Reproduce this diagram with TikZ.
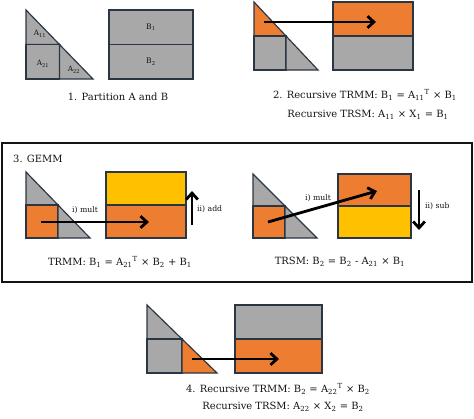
\documentclass[tikz,border=0pt]{standalone}
\usepackage{fontspec}
\setmainfont{DejaVu Serif}
\usetikzlibrary{arrows.meta}
\usetikzlibrary{positioning}
\definecolor{grey}{HTML}{A8A8A8}
\definecolor{orng}{HTML}{ED7D31}
\definecolor{yelw}{HTML}{FFC000}
\definecolor{edge}{HTML}{2B3644}
\definecolor{ink}{HTML}{141414}
\tikzset{part/.style = {draw=edge, line width=1pt}}
\tikzset{blk/.style 2 args = {part, fill=grey, inner sep=0,
                              minimum width=#1*0.03cm, minimum height=#2*0.03cm,
                              font=\fontsize{6.5}{7}\selectfont, text=ink}}
\tikzset{lbl/.style = {inner sep=0, font=\fontsize{6.3}{7}\selectfont, text=ink}}
\tikzset{captxt/.style = {inner sep=0, font=\fontsize{8.5}{10}\selectfont, text=ink}}
\tikzset{mv/.style = {line width=2.4pt, -{Straight Barb[length=5.5pt, width=10pt]}}}
% lower triangular matrix split in three blocks
\newcommand{\tmat}[7]{%
  \begin{scope}[shift={(#1,#2)}, xscale=#3, yscale=#4]
    \filldraw [part, fill=#5] (0, 0) -- (0, .5) -- (.5, .5) -- cycle;
    \filldraw [part, fill=#6] (0, .5) rectangle (.5, 1);
    \filldraw [part, fill=#7] (.5, .5) -- (.5, 1) -- (1, 1) -- cycle;
  \end{scope}}

\begin{document}
\begin{tikzpicture}[x=0.03cm, y=-0.03cm]
      \useasboundingbox (0, 0) rectangle (474, 419);
      % 1. partition
      \tmat{26}{10}{67}{69}{grey}{grey}{grey}
      \node [lbl] (a11) at (40, 34) {A\textsubscript{11}};
      \node [lbl] (a21) at (43, 64) {A\textsubscript{21}};
      \node [lbl] (a22) at (74, 70) {A\textsubscript{22}};
      \node [blk={84}{34.5}] (pb1) at (151, 27.25) {B\textsubscript{1}};
      \node [blk={84}{34.5}] (pb2) at (151, 61.75) {B\textsubscript{2}};
      \node [captxt] (cap1) at (118, 97) {1. Partition A and B};
      % 2. recursive step on A11
      \tmat{254}{2}{64}{68}{orng}{grey}{grey}
      \node [blk={80}{34}, fill=orng] (rb1) at (373, 19) {};
      \node [blk={80}{34}] (rb2) at (373, 53) {};
      \coordinate (rs) at (264, 22);
      \coordinate (re) at (376, 22);
      \draw [mv] (rs) -- (re);
      \node [captxt] (cap2) at (365, 95) {2. Recursive TRMM: B\textsubscript{1} = A\textsubscript{11}\textsuperscript{T} × B\textsubscript{1}};
      \node [captxt] (cap2b) at (368, 115) {Recursive TRSM: A\textsubscript{11} × X\textsubscript{1} = B\textsubscript{1}};
      % 3. GEMM
      \draw [draw=ink, line width=1.5pt] (2, 143) rectangle (472, 282);
      \node [captxt, anchor=west] (gemm) at (13, 159) {3. GEMM};
      \tmat{26}{172}{64}{66}{grey}{orng}{grey}
      \node [blk={80}{33}, fill=yelw] (mb1) at (146, 188.5) {};
      \node [blk={80}{33}, fill=orng] (mb2) at (146, 221.5) {};
      \coordinate (ms) at (41, 222);
      \coordinate (me) at (149, 222);
      \draw [mv] (ms) -- (me);
      \node [lbl, font=\fontsize{6.6}{8}\selectfont] (mult1) at (85, 210) {i) mult};
      \coordinate (as) at (192, 225);
      \coordinate (ae) at (192, 191);
      \draw [mv] (as) -- (ae);
      \node [lbl, font=\fontsize{6.6}{8}\selectfont, anchor=west] (add) at (197, 209) {ii) add};
      \node [captxt] (cap3a) at (120, 262) {TRMM: B\textsubscript{1} = A\textsubscript{21}\textsuperscript{T} × B\textsubscript{2} + B\textsubscript{1}};
      \tmat{253}{174}{64}{64}{grey}{orng}{grey}
      \node [blk={73}{32}, fill=orng] (sb1) at (374.5, 190) {};
      \node [blk={73}{32}, fill=yelw] (sb2) at (374.5, 222) {};
      \coordinate (ss) at (268, 222);
      \coordinate (se) at (377, 191);
      \draw [mv] (ss) -- (se);
      \node [lbl, font=\fontsize{6.6}{8}\selectfont] (mult2) at (318, 198) {i) mult};
      \coordinate (ds) at (419, 190);
      \coordinate (de) at (419, 230);
      \draw [mv] (ds) -- (de);
      \node [lbl, font=\fontsize{6.6}{8}\selectfont, anchor=west] (sub) at (425, 206) {ii) sub};
      \node [captxt] (cap3b) at (340, 262) {TRSM: B\textsubscript{2} = B\textsubscript{2} - A\textsubscript{21} × B\textsubscript{1}};
      % 4. recursive step on A22
      \tmat{147}{305}{70}{68}{grey}{grey}{orng}
      \node [blk={87}{34}] (qb1) at (278.5, 322) {};
      \node [blk={87}{34}, fill=orng] (qb2) at (278.5, 356) {};
      \coordinate (qs) at (192, 359);
      \coordinate (qe) at (279, 359);
      \draw [mv] (qs) -- (qe);
      \node [captxt] (cap4) at (278, 389) {4. Recursive TRMM: B\textsubscript{2} = A\textsubscript{22}\textsuperscript{T} × B\textsubscript{2}};
      \node [captxt] (cap4b) at (283, 407) {Recursive TRSM: A\textsubscript{22} × X\textsubscript{2} = B\textsubscript{2}};
\end{tikzpicture}
\end{document}
